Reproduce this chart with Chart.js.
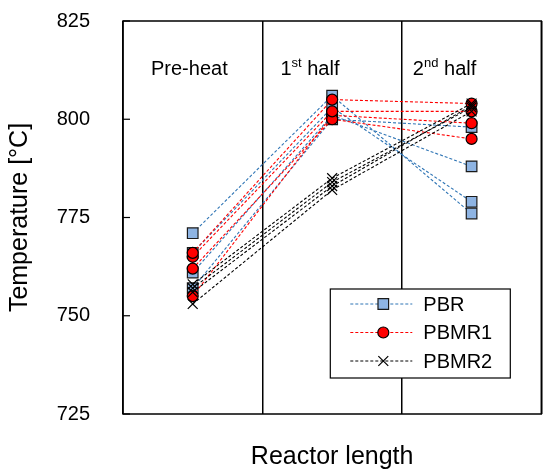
<!DOCTYPE html>
<html>
<head>
<meta charset="utf-8">
<script src="https://cdn.jsdelivr.net/npm/chart.js@4.4.0/dist/chart.umd.min.js"></script>
<style>
  html, body { margin: 0; padding: 0; background: #fff; }
  #wrap { width: 550px; height: 472px; }
</style>
</head>
<body>
<div id="wrap"><canvas id="chart"></canvas></div>
<script>
// reactor sections on the x axis
var sections = ["Pre-heat", "1st half", "2nd half"];
var yTicks = [725, 750, 775, 800, 825];

// temperatures [°C], one entry per run
var pbrPre    = [771, 766, 761, 757];
var pbrFirst  = [806, 803, 801, 800];
var pbrSecond = [776, 779, 788, 798];

var pbmr1Pre    = [766, 765, 762, 755];
var pbmr1First  = [805, 802, 800, 801];
var pbmr1Second = [804, 802, 795, 799];

var pbmr2Pre    = [758, 757, 756, 753];
var pbmr2First  = [785, 784, 783, 782];
var pbmr2Second = [804, 803, 803.5, 802];

var FONT = "'Liberation Sans', Arial, sans-serif";

var styles = {
  PBR:   { line: "#2F75B5", fill: "#8EB4E3", edge: "#1a1a1a", point: "rect",     radius: 7.5, order: 2 },
  PBMR1: { line: "#FF0000", fill: "#FF0000", edge: "#000000", point: "circle",   radius: 5.5, order: 1 },
  PBMR2: { line: "#000000", fill: "#000000", edge: "#000000", point: "crossRot", radius: 7,   order: 0 }
};

function makeRuns(name, pre, first, second) {
  var s = styles[name];
  return pre.map(function (v, i) {
    return {
      label: name,
      data: [v, first[i], second[i]],
      borderColor: s.line,
      borderWidth: 1.1,
      borderDash: [3, 2],
      pointStyle: s.point,
      pointRadius: s.radius,
      pointHoverRadius: s.radius,
      pointBackgroundColor: s.fill,
      pointBorderColor: s.edge,
      pointBorderWidth: 1.2,
      fill: false,
      tension: 0,
      order: s.order
    };
  });
}

var datasets = []
  .concat(makeRuns("PBR", pbrPre, pbrFirst, pbrSecond))
  .concat(makeRuns("PBMR1", pbmr1Pre, pbmr1First, pbmr1Second))
  .concat(makeRuns("PBMR2", pbmr2Pre, pbmr2First, pbmr2Second));

var extras = {
  id: "extras",
  afterDraw: function (chart) {
    var ctx = chart.ctx, a = chart.chartArea, y = chart.scales.y;
    ctx.save();
    // frame
    ctx.strokeStyle = "#000";
    ctx.lineWidth = 1.5;
    ctx.strokeRect(a.left, a.top, a.right - a.left, a.bottom - a.top);
    // inward y ticks
    ctx.lineWidth = 1.2;
    yTicks.forEach(function (t) {
      var py = y.getPixelForValue(t);
      ctx.beginPath();
      ctx.moveTo(a.left, py);
      ctx.lineTo(a.left + 7, py);
      ctx.stroke();
    });
    // section labels
    ctx.fillStyle = "#000";
    ctx.textBaseline = "alphabetic";
    ctx.textAlign = "left";
    var w = (a.right - a.left) / sections.length;
    var offs = [28, 18, 11];
    var base = a.top + 54;
    sections.forEach(function (label, i) {
      var px = a.left + w * i + offs[i];
      var m = label.match(/^(\d)(st|nd|rd|th)(.*)$/);
      if (m) {
        ctx.font = "20px " + FONT;
        ctx.fillText(m[1], px, base);
        px += ctx.measureText(m[1]).width;
        ctx.font = "13px " + FONT;
        ctx.fillText(m[2], px, base - 8);
        px += ctx.measureText(m[2]).width;
        ctx.font = "20px " + FONT;
        ctx.fillText(m[3], px, base);
      } else {
        ctx.font = "20px " + FONT;
        ctx.fillText(label, px, base);
      }
    });
    // legend box
    var bw = 180, bh = 89;
    var bx = a.right - 31 - bw, by = a.bottom - 36 - bh;
    ctx.fillStyle = "#fff";
    ctx.fillRect(bx, by, bw, bh);
    ctx.strokeStyle = "#000";
    ctx.lineWidth = 1.2;
    ctx.strokeRect(bx, by, bw, bh);
    ["PBR", "PBMR1", "PBMR2"].forEach(function (name, i) {
      var s = styles[name];
      var ly = by + 15 + i * 28.5;
      ctx.save();
      ctx.strokeStyle = s.line;
      ctx.lineWidth = 1;
      ctx.setLineDash([3, 2]);
      ctx.beginPath();
      ctx.moveTo(bx + 20, ly);
      ctx.lineTo(bx + 82, ly);
      ctx.stroke();
      ctx.restore();
      ctx.fillStyle = s.fill;
      ctx.strokeStyle = s.edge;
      ctx.lineWidth = 1.2;
      Chart.helpers.drawPoint(ctx, { pointStyle: s.point, rotation: 0, radius: s.radius, borderWidth: 1.2 }, bx + 53, ly);
      ctx.fillStyle = "#000";
      ctx.font = "20px " + FONT;
      ctx.textBaseline = "middle";
      ctx.fillText(name, bx + 93, ly + 1);
    });
    ctx.restore();
  }
};

new Chart(document.getElementById("chart"), {
  type: "line",
  data: { labels: sections, datasets: datasets },
  options: {
    responsive: true,
    maintainAspectRatio: false,
    animation: false,
    layout: { padding: { top: 21, right: 6, bottom: 0, left: 0 } },
    plugins: { legend: { display: false }, tooltip: { enabled: false } },
    scales: {
      x: {
        type: "category",
        offset: true,
        border: { display: false },
        grid: { offset: true, color: "#000", lineWidth: 1.5, drawTicks: false },
        ticks: { display: false },
        title: { display: true, text: "Reactor length", color: "#000",
                 font: { family: FONT, size: 25 }, padding: { top: 24, bottom: 0 } },
        afterFit: function (scale) { scale.height = 58; }
      },
      y: {
        min: 725, max: 825,
        border: { display: false },
        grid: { display: true, drawOnChartArea: false, drawTicks: true,
                tickLength: 30, tickColor: "rgba(0,0,0,0)", color: "rgba(0,0,0,0)" },
        afterBuildTicks: function (scale) {
          scale.ticks = yTicks.map(function (v) { return { value: v }; });
        },
        ticks: { color: "#000", font: { family: FONT, size: 20 }, padding: 3 },
        title: { display: true, text: "Temperature [°C]", color: "#000",
                 font: { family: FONT, size: 25 }, padding: { top: 5, bottom: 0 } },
        afterFit: function (scale) { scale.width = 123; }
      }
    }
  },
  plugins: [extras]
});
</script>
</body>
</html>
